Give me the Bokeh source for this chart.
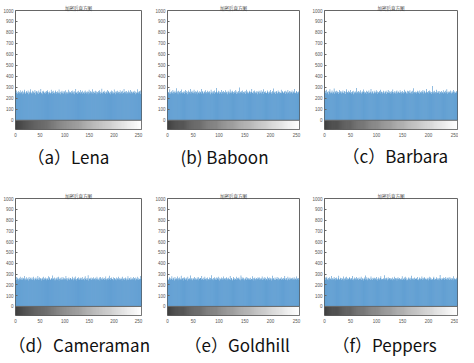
from bokeh.plotting import figure
from bokeh.layouts import gridplot
from bokeh.models import Title, FixedTicker
from bokeh.embed import file_html
from bokeh.resources import INLINE

levels = list(range(256))
y_ticks = [0, 100, 200, 300, 400, 500, 600, 700, 800, 900, 1000]
x_ticks = [0, 50, 100, 150, 200, 250]
panel_title = "加密后直方图"
captions = ["（a）Lena", "(b) Baboon", "（c）Barbara", "（d）Cameraman", "（e）Goldhill", "（f）Peppers"]

lena = [
262,248,271,255,239,266,250,243,258,274,247,260,252,237,268,256,
245,263,279,251,240,257,266,249,254,272,238,261,247,259,283,250,
244,256,269,241,262,253,248,276,235,259,267,252,246,263,240,271,
255,249,258,284,243,251,264,238,257,270,246,253,261,242,266,250,
259,273,236,255,248,262,251,244,277,256,240,263,268,249,253,245,
260,272,239,257,250,265,243,254,281,247,258,236,263,251,270,246,
255,242,267,259,249,274,238,252,261,245,256,279,243,262,250,257,
248,266,241,253,271,245,259,237,264,252,286,249,255,240,262,268,
246,257,251,275,243,260,254,239,269,248,256,263,241,272,250,258,
245,265,252,238,261,277,247,255,266,243,259,251,283,240,257,264,
249,253,270,244,262,236,258,251,267,246,273,255,242,260,249,287,
254,241,263,257,248,269,239,256,262,250,275,244,258,266,247,253,
260,238,271,252,245,264,256,243,280,249,259,237,265,254,247,268,
251,261,242,257,274,246,255,263,240,269,252,248,284,258,243,262,
250,267,239,256,253,271,245,260,248,276,241,257,265,252,244,263,
255,249,270,238,261,254,247,282,250,259,243,266,256,240,272,258]

baboon = [
271,250,258,244,283,256,239,265,252,247,276,260,241,255,268,249,
257,292,246,262,238,270,253,259,244,267,251,280,243,256,263,248,
262,240,275,254,249,266,237,258,271,245,260,252,284,242,257,269,
250,263,247,278,255,241,264,252,259,237,272,248,256,265,244,261,
253,286,242,258,267,250,239,262,255,274,246,257,243,268,252,260,
247,264,255,238,277,251,259,245,266,253,240,271,258,249,262,295,
244,256,269,252,241,263,257,248,275,239,260,254,266,243,258,250,
273,246,261,255,237,268,252,259,244,281,250,263,247,256,270,241,
258,265,249,253,276,240,262,256,245,267,251,298,243,259,254,264,
248,271,242,257,260,250,266,239,255,278,246,262,253,244,269,257,
261,243,258,285,249,254,265,241,272,256,247,260,251,266,238,259,
255,268,244,262,250,274,245,257,263,240,282,253,259,248,264,251,
246,260,271,242,256,263,249,276,252,241,258,267,244,290,255,250,
263,239,257,266,251,245,272,258,243,261,254,248,279,246,259,265,
252,247,264,256,240,269,253,260,245,275,250,257,266,242,262,249,
258,271,243,255,262,248,284,251,246,259,267,241,256,263,252,270]

barbara = [
255,268,249,277,243,260,252,238,266,257,283,246,261,250,272,244,
259,253,289,241,264,256,247,270,252,262,239,258,275,248,255,266,
243,261,254,271,250,245,267,258,240,263,282,251,257,246,269,253,
261,248,276,242,257,265,252,238,270,256,247,263,251,295,244,259,
254,267,245,260,249,273,256,241,264,252,258,280,243,262,250,255,
268,239,257,263,246,271,253,248,260,286,244,256,265,251,242,269,
252,260,247,274,255,240,263,257,249,266,252,278,245,259,261,243,
256,270,250,244,262,255,268,239,257,253,275,248,264,251,241,260,
265,246,258,281,243,257,250,266,254,240,262,271,247,256,263,252,
249,273,255,242,261,248,267,258,244,279,251,257,264,245,253,270,
242,259,266,251,274,246,256,263,240,268,252,291,247,258,262,250,
257,244,269,255,249,263,241,272,256,252,265,246,259,276,243,261,
268,253,247,260,285,250,257,244,266,255,271,249,262,240,258,312,
254,262,245,270,251,258,243,277,256,248,264,252,267,241,259,255,
246,266,257,250,273,244,261,253,268,247,256,282,242,260,251,263,
259,248,271,254,245,264,250,258,276,243,262,255,249,267,253,257]

cameraman = [
258,245,272,251,266,240,257,263,249,276,253,244,261,268,247,255,
264,252,281,243,259,250,270,246,256,262,241,273,254,248,265,257,
250,267,244,259,276,253,242,262,255,269,247,258,251,283,245,260,
271,248,256,263,240,257,266,252,274,244,261,250,255,268,243,259,
253,262,279,246,258,271,251,245,264,256,249,286,254,260,242,267,
257,243,263,252,270,248,259,276,241,255,266,250,262,247,273,251,
246,268,254,261,244,257,282,250,263,240,258,253,269,245,256,264,
262,251,247,275,256,243,260,252,267,249,278,255,241,263,257,250,
270,244,258,253,265,246,261,272,248,257,252,266,243,280,254,259,
245,263,250,288,241,259,255,264,251,269,244,257,262,248,271,253,
259,252,266,243,257,274,249,261,246,255,267,240,273,256,250,262,
248,270,255,259,244,263,252,277,257,242,260,251,265,247,284,254,
263,246,257,268,250,255,271,243,259,264,248,256,242,269,253,260,
251,274,244,262,256,249,266,254,240,275,257,252,263,245,258,267,
255,243,261,250,279,245,258,263,252,247,270,256,244,261,253,272,
247,264,256,242,268,253,259,250,274,244,262,257,249,281,255,263]

goldhill = [
265,250,243,271,258,247,262,254,280,245,259,266,251,240,273,256,
248,262,255,277,243,260,252,268,246,257,284,249,263,254,241,266,
257,270,246,259,252,265,240,274,256,249,262,253,286,247,260,251,
243,264,257,250,272,245,261,256,248,267,252,242,270,259,254,263,
260,247,281,253,258,244,266,251,275,257,249,262,240,268,255,250,
252,269,245,263,256,289,248,257,242,264,253,271,246,259,267,244,
266,255,250,274,241,262,257,248,268,252,260,245,277,251,256,263,
249,261,270,243,259,253,265,247,255,282,244,258,264,250,241,272,
257,244,262,256,251,276,245,263,252,259,269,248,256,243,287,253,
271,258,247,265,254,242,260,257,273,246,253,266,250,262,247,258,
244,266,255,251,279,249,262,240,259,268,255,243,264,257,251,270,
262,250,268,245,256,263,253,277,246,260,249,271,254,242,266,257,
253,274,243,261,258,247,269,252,264,241,257,285,250,263,255,246,
267,245,259,254,272,251,243,266,257,249,262,255,270,244,259,252,
248,263,256,281,246,258,264,250,242,275,253,260,247,267,252,261,
259,251,266,244,257,270,249,262,255,246,278,254,261,248,264,256]

peppers = [
253,267,246,260,275,248,257,263,242,270,254,259,249,281,244,262,
258,250,272,255,243,264,251,269,257,246,261,284,252,247,266,256,
245,263,256,249,278,241,259,253,267,250,274,244,262,257,251,265,
270,248,259,264,252,283,246,256,243,268,255,261,248,273,250,258,
262,244,267,255,250,259,276,245,263,252,257,240,269,254,286,247,
251,271,243,258,265,249,254,262,246,277,253,260,244,266,256,250,
266,253,260,247,272,256,241,268,252,259,245,263,280,249,257,254,
247,261,255,289,244,260,251,266,258,243,271,252,256,264,248,262,
259,250,268,243,257,253,275,247,264,255,262,241,259,270,252,257,
264,246,254,261,250,279,245,258,253,267,248,256,274,243,261,250,
243,268,257,251,266,247,260,284,249,256,263,252,245,269,258,254,
256,262,245,272,253,242,267,257,250,261,255,277,247,263,251,266,
271,249,259,254,247,265,252,262,243,276,256,250,268,245,259,253,
250,263,276,245,258,255,249,270,257,248,264,253,242,261,291,257,
258,245,262,251,269,257,246,263,254,272,250,259,265,244,256,267,
246,270,253,260,248,264,257,243,279,252,261,255,249,266,253,260]

series = [lena, baboon, barbara, cameraman, goldhill, peppers]

# (width, height, left, right, top, bottom, caption standoff, caption offset)
layout_spec = [
    (152, 172, 8, 11, 10, 41, 5, 12),
    (152, 172, 14, 5, 10, 41, 5, 13),
    (154, 172, 20, 1, 8, 43, 3, 18),
    (152, 189, 8, 11, 26, 42, 9, -7),
    (152, 189, 14, 5, 26, 42, 9, 17),
    (154, 189, 20, 1, 26, 42, 9, 8),
]

grays = ["#%02x%02x%02x" % (g, g, g) for g in levels]
CB = 84  # colorbar height in y units
tick_font = "Liberation Sans"


def make_panel(vals, caption, spec):
    w, h, ml, mr, mt, mb, cst, coff = spec
    p = figure(width=w, height=h, x_range=(0, 256), y_range=(-CB, 1000),
               output_backend="svg", toolbar_location=None,
               min_border_left=ml, min_border_right=mr,
               min_border_top=mt, min_border_bottom=mb)
    p.title.text = panel_title
    p.title.align = "center"
    p.title.text_font_size = "4.5px"
    p.title.text_font_style = "normal"
    p.title.text_color = "#444444"
    p.title.text_font = "Noto Sans CJK SC"
    p.title.standoff = 0
    p.xgrid.visible = False
    p.ygrid.visible = False
    p.outline_line_color = "#666666"
    p.background_fill_color = "white"
    p.border_fill_color = "white"

    xs = [l + 0.5 for l in levels]
    p.vbar(x=xs, top=vals, bottom=0, width=1.0, fill_color="#2F80C4", line_color=None)
    p.quad(left=levels, right=[l + 1 for l in levels], bottom=-CB, top=0,
           fill_color=grays, line_color=None)
    p.quad(left=[0], right=[256], bottom=[-CB], top=[0], fill_color=None,
           line_color="#666666", line_width=1)

    ya = p.yaxis[0]
    ya.ticker = FixedTicker(ticks=y_ticks)
    ya.major_label_text_font_size = "4.5px"
    ya.major_label_text_font = tick_font
    ya.major_label_text_color = "#555555"
    ya.major_tick_in = 2
    ya.major_tick_out = 0
    ya.major_tick_line_color = "#666666"
    ya.minor_tick_line_color = None
    ya.axis_line_color = None
    ya.major_label_standoff = 2

    xa = p.xaxis[0]
    xa.ticker = FixedTicker(ticks=x_ticks)
    xa.major_label_text_font_size = "4.5px"
    xa.major_label_text_font = tick_font
    xa.major_label_text_color = "#555555"
    xa.major_tick_in = 0
    xa.major_tick_out = 0
    xa.minor_tick_line_color = None
    xa.axis_line_color = None
    xa.major_label_standoff = 3

    cap = Title(text=caption, align="left", text_font_size="17px",
                text_font_style="normal", text_font="Noto Sans CJK SC",
                text_color="#111111", standoff=cst, offset=coff)
    p.add_layout(cap, "below")
    return p


panels = [make_panel(v, c, s) for v, c, s in zip(series, captions, layout_spec)]
grid = gridplot([panels[0:3], panels[3:6]], toolbar_location=None)

open("out.html", "w").write(file_html(grid, INLINE))
